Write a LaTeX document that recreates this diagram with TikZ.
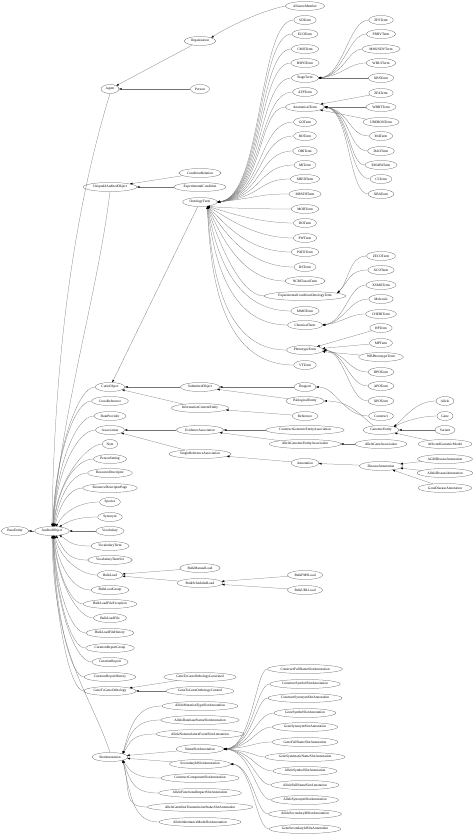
\documentclass[tikz,border=0pt]{standalone}
\usepackage{fontspec}
\setmainfont{Liberation Serif}
\usetikzlibrary{shapes.geometric, arrows.meta}

\begin{document}
\begin{tikzpicture}[x=1pt, y=-1pt,
	ent/.style={ellipse, draw=black!65, line width=0.25pt, font=\fontsize{3.5}{4}\selectfont,
		inner xsep=2pt, inner ysep=0.5pt, minimum height=9pt, minimum width=13.6pt},
	edge/.style={draw=black!55, line width=0.25pt, -{Triangle[length=2.6pt, width=1.8pt, color=black]}}]
	\useasboundingbox (0,0) rectangle (474,835);
	% wurzel
	\node[ent] (BaseEntity) at (15,531) {BaseEntity};
	\node[ent] (AuditedObject) at (52,531) {AuditedObject};
	% zweite spalte
	\foreach \nm/\yy in {Agent/89, UniqueIdAuditedObject/187, CurieObject/387, CrossReference/401,
		DataProvider/416, Association/430, Note/444, PersonSetting/459, ResourceDescriptor/473,
		ResourceDescriptorPage/488, Species/502, Synonym/517, Vocabulary/531, VocabularyTerm/546,
		VocabularyTermSet/560, BulkLoad/575, BulkLoadGroup/590, BulkLoadFileException/604,
		BulkLoadFile/618, BulkLoadFileHistory/633, CurationReportGroup/648, CurationReport/662,
		CurationReportHistory/677, GeneToGeneOrthology/691, SlotAnnotation/757}
		\node[ent] (\nm) at (110,\yy) {\nm};
	% dritte spalte
	\foreach \nm/\yy in {Organization/41, Person/89, ConditionRelation/173, ExperimentalCondition/187,
		OntologyTerm/202, SubmittedObject/387, InformationContentEntity/408, EvidenceAssociation/430,
		SingleReferenceAssociation/454, BulkManualLoad/568, BulkScheduledLoad/583,
		GeneToGeneOrthologyGenerated/677, GeneToGeneOrthologyCurated/691,
		AlleleMutationTypeSlotAnnotation/706, AlleleDatabaseStatusSlotAnnotation/720,
		AlleleNomenclatureEventSlotAnnotation/734, NameSlotAnnotation/749, SecondaryIdSlotAnnotation/764,
		ConstructComponentSlotAnnotation/778, AlleleFunctionalImpactSlotAnnotation/793,
		AlleleGermlineTransmissionStatusSlotAnnotation/807, AlleleInheritanceModeSlotAnnotation/822}
		\node[ent] (\nm) at (200,\yy) {\nm};
	% vierte spalte
	\foreach \nm/\yy in {AllianceMember/6, SOTerm/20, ECOTerm/34, CMOTerm/49, BSPOTerm/63, StageTerm/78,
		ATPTerm/92, AnatomicalTerm/107, GOTerm/122, ROTerm/136, OBITerm/151, MITerm/165, XBEDTerm/179,
		MPATHTerm/194, MODTerm/209, DOTerm/223, PWTerm/238, PATOTerm/252, RSTerm/267, NCBITaxonTerm/281,
		ExperimentalConditionOntologyTerm/296, MMOTerm/311, ChemicalTerm/325, PhenotypeTerm/350,
		VTTerm/365, Reagent/387, BiologicalEntity/401, Reference/416,
		ConstructGenomicEntityAssociation/430, AlleleGenomicEntityAssociation/444, Annotation/463,
		BulkFMSLoad/575, BulkURLLoad/590, ConstructFullNameSlotAnnotation/669,
		ConstructSymbolSlotAnnotation/684, ConstructSynonymSlotAnnotation/698, GeneSymbolSlotAnnotation/713,
		GeneSynonymSlotAnnotation/727, GeneFullNameSlotAnnotation/742, GeneSystematicNameSlotAnnotation/757,
		AlleleSymbolSlotAnnotation/771, AlleleFullNameSlotAnnotation/785, AlleleSynonymSlotAnnotation/800,
		AlleleSecondaryIdSlotAnnotation/814, GeneSecondaryIdSlotAnnotation/829}
		\node[ent] (\nm) at (305,\yy) {\nm};
	% fuenfte spalte
	\foreach \nm/\yy in {ZFSTerm/20, FBDVTerm/34, MMUSDVTerm/49, WBLSTerm/63, XBSTerm/78, ZFATerm/93,
		WBBTTerm/107, UBERONTerm/122, MATerm/136, DAOTerm/151, EMAPATerm/165, CLTerm/179, XBATerm/194,
		ZECOTerm/256, XCOTerm/270, XSMOTerm/285, Molecule/299, CHEBITerm/314, HPTerm/328, MPTerm/343,
		WBPhenotypeTerm/357, DPOTerm/372, APOTerm/386, XPOTerm/401, Construct/416, GenomicEntity/430,
		AlleleGeneAssociation/444, DiseaseAnnotation/466}
		\node[ent] (\nm) at (381,\yy) {\nm};
	% sechste spalte
	\foreach \nm/\yy in {Allele/401, Gene/416, Variant/430, AffectedGenomicModel/444,
		AGMDiseaseAnnotation/459, AlleleDiseaseAnnotation/473, GeneDiseaseAnnotation/488}
		\node[ent] (\nm) at (445,\yy) {\nm};

	% kanten zum AuditedObject
	\draw[edge] (AuditedObject) -- (BaseEntity);
	\draw[edge] (Agent.south) .. controls +(-40,130) and +(2,-150) .. (AuditedObject.north);
	\draw[edge] (UniqueIdAuditedObject.south) .. controls +(-12,100) and +(10,-120) .. (AuditedObject.84);
	\foreach \nm/\a/\b/\h/\ang in {CurieObject/18/2/70/80, CrossReference/18/2/65/78, DataProvider/18/3/60/76,
		Association/18/3/55/74, Note/15/4/48/72, PersonSetting/18/4/40/68, ResourceDescriptor/15/5/32/64,
		ResourceDescriptorPage/12/6/25/58, Species/20/8/15/48, Synonym/20/10/6/30}
		\draw[edge] (\nm.west) .. controls +(-\a,0) and +(\b,-\h) .. (AuditedObject.\ang);
	\draw[edge] (Vocabulary) -- (AuditedObject);
	\foreach \nm/\a/\b/\h/\ang in {VocabularyTerm/20/10/6/-30, VocabularyTermSet/20/8/15/-48,
		BulkLoad/15/6/25/-58, BulkLoadGroup/18/5/32/-64, BulkLoadFileException/12/4/40/-68,
		BulkLoadFile/15/4/48/-72, BulkLoadFileHistory/15/3/55/-74, CurationReportGroup/15/3/60/-76,
		CurationReport/18/2/65/-78, CurationReportHistory/15/2/70/-80, GeneToGeneOrthology/15/2/75/-82}
		\draw[edge] (\nm.west) .. controls +(-\a,0) and +(\b,\h) .. (AuditedObject.\ang);
	\draw[edge] (SlotAnnotation.north) .. controls +(-20,-60) and +(2,120) .. (AuditedObject.south);

	% agent
	\draw[edge] (AllianceMember.west) .. controls +(-25,5) and +(15,-10) .. (Organization.north east);
	\draw[edge] (Organization) -- (Agent);
	\draw[edge] (Person) -- (Agent);
	\draw[edge] (ConditionRelation) -- (UniqueIdAuditedObject);
	\draw[edge] (ExperimentalCondition) -- (UniqueIdAuditedObject);

	% ontologie
	\draw[edge] (OntologyTerm) -- (CurieObject);
	\coordinate (otbend) at (258,0);
	\coordinate (otin) at (263,197);
	\foreach \nm in {SOTerm, ECOTerm, CMOTerm, BSPOTerm, StageTerm, ATPTerm, AnatomicalTerm, GOTerm,
		ROTerm, OBITerm, MITerm, XBEDTerm, MPATHTerm}
		\draw[edge] (\nm.west) .. controls (\nm.west -| otbend) and (otin) .. (OntologyTerm.east);
	\foreach \nm/\a/\b/\c in {MODTerm/30/20/2, DOTerm/35/20/6, PWTerm/40/18/10, PATOTerm/45/16/15,
		RSTerm/50/14/20, NCBITaxonTerm/45/12/25, ExperimentalConditionOntologyTerm/25/10/32,
		MMOTerm/60/8/40, ChemicalTerm/60/6/48, PhenotypeTerm/65/4/58, VTTerm/75/3/62}
		\draw[edge] (\nm.west) .. controls +(-\a,0) and +(\b,\c) .. (OntologyTerm.-30);
	\coordinate (stbend) at (349,0);
	\foreach \nm in {ZFSTerm, FBDVTerm, MMUSDVTerm, WBLSTerm}
		\draw[edge] (\nm.west) .. controls (\nm.west -| stbend) and +(25,-3) .. (StageTerm.east);
	\draw[edge] (XBSTerm) -- (StageTerm);
	\foreach \nm in {ZFATerm, WBBTTerm, UBERONTerm}
		\draw[edge] (\nm) -- (AnatomicalTerm);
	\foreach \nm in {MATerm, DAOTerm, EMAPATerm, CLTerm, XBATerm}
		\draw[edge] (\nm.west) .. controls (\nm.west -| stbend) and +(25,4) .. (AnatomicalTerm.east);
	\foreach \nm in {ZECOTerm, XCOTerm}
		\draw[edge] (\nm.west) .. controls (\nm.west -| stbend) and +(12,-12) .. (ExperimentalConditionOntologyTerm.5);
	\foreach \nm in {XSMOTerm, Molecule, CHEBITerm}
		\draw[edge] (\nm.west) .. controls (\nm.west -| stbend) and +(22,-3) .. (ChemicalTerm.east);
	\foreach \nm in {HPTerm, MPTerm, WBPhenotypeTerm}
		\draw[edge] (\nm) -- (PhenotypeTerm);
	\foreach \nm in {DPOTerm, APOTerm, XPOTerm}
		\draw[edge] (\nm.west) .. controls (\nm.west -| stbend) and +(22,3) .. (PhenotypeTerm.east);

	% submitted objects
	\draw[edge] (SubmittedObject) -- (CurieObject);
	\draw[edge] (InformationContentEntity) -- (CurieObject);
	\draw[edge] (Reagent) -- (SubmittedObject);
	\draw[edge] (BiologicalEntity) -- (SubmittedObject);
	\draw[edge] (Reference) -- (InformationContentEntity);
	\draw[edge] (Construct.west) .. controls +(-25,0) and +(20,0) .. (Reagent.east);
	\draw[edge] (GenomicEntity.150) .. controls +(-15,-12) and +(25,0) .. (BiologicalEntity.east);
	\draw[edge] (Allele.west) .. controls +(-20,0) and +(12,-10) .. (GenomicEntity.north east);
	\draw[edge] (Gene.west) .. controls +(-15,0) and +(12,-6) .. (GenomicEntity.north east);
	\draw[edge] (Variant) -- (GenomicEntity);
	\draw[edge] (AffectedGenomicModel) -- (GenomicEntity);

	% assoziationen
	\draw[edge] (EvidenceAssociation) -- (Association);
	\draw[edge] (SingleReferenceAssociation) -- (Association);
	\draw[edge] (ConstructGenomicEntityAssociation) -- (EvidenceAssociation);
	\draw[edge] (AlleleGenomicEntityAssociation) -- (EvidenceAssociation);
	\draw[edge] (AlleleGeneAssociation) -- (AlleleGenomicEntityAssociation);
	\draw[edge] (Annotation) -- (SingleReferenceAssociation);
	\draw[edge] (DiseaseAnnotation) -- (Annotation);
	\foreach \nm in {AGMDiseaseAnnotation, AlleleDiseaseAnnotation, GeneDiseaseAnnotation}
		\draw[edge] (\nm) -- (DiseaseAnnotation);

	% bulk loads und orthologie
	\draw[edge] (BulkManualLoad) -- (BulkLoad);
	\draw[edge] (BulkScheduledLoad) -- (BulkLoad);
	\draw[edge] (BulkFMSLoad) -- (BulkScheduledLoad);
	\draw[edge] (BulkURLLoad) -- (BulkScheduledLoad);
	\draw[edge] (GeneToGeneOrthologyGenerated) -- (GeneToGeneOrthology);
	\draw[edge] (GeneToGeneOrthologyCurated) -- (GeneToGeneOrthology);

	% slot annotations
	\foreach \nm/\h in {AlleleMutationTypeSlotAnnotation/30, AlleleDatabaseStatusSlotAnnotation/22,
		AlleleNomenclatureEventSlotAnnotation/12}
		\draw[edge] (\nm.west) .. controls +(-25,0) and +(8,-\h) .. (SlotAnnotation.north east);
	\draw[edge] (NameSlotAnnotation) -- (SlotAnnotation);
	\draw[edge] (SecondaryIdSlotAnnotation) -- (SlotAnnotation);
	\foreach \nm/\h in {ConstructComponentSlotAnnotation/12, AlleleFunctionalImpactSlotAnnotation/22,
		AlleleGermlineTransmissionStatusSlotAnnotation/30, AlleleInheritanceModeSlotAnnotation/38}
		\draw[edge] (\nm.west) .. controls +(-25,0) and +(8,\h) .. (SlotAnnotation.south east);
	\coordinate (nsbend) at (256,0);
	\foreach \nm in {ConstructFullNameSlotAnnotation, ConstructSymbolSlotAnnotation,
		ConstructSynonymSlotAnnotation, GeneSymbolSlotAnnotation, GeneSynonymSlotAnnotation,
		GeneFullNameSlotAnnotation}
		\draw[edge] (\nm.west) .. controls (\nm.west -| nsbend) and +(28,-2) .. (NameSlotAnnotation.east);
	\foreach \nm in {GeneSystematicNameSlotAnnotation, AlleleSymbolSlotAnnotation,
		AlleleFullNameSlotAnnotation, AlleleSynonymSlotAnnotation}
		\draw[edge] (\nm.west) .. controls (\nm.west -| nsbend) and +(28,2) .. (NameSlotAnnotation.east);
	\foreach \nm in {AlleleSecondaryIdSlotAnnotation, GeneSecondaryIdSlotAnnotation}
		\draw[edge] (\nm.west) .. controls (\nm.west -| nsbend) and +(22,2) .. (SecondaryIdSlotAnnotation.east);
\end{tikzpicture}
\end{document}
